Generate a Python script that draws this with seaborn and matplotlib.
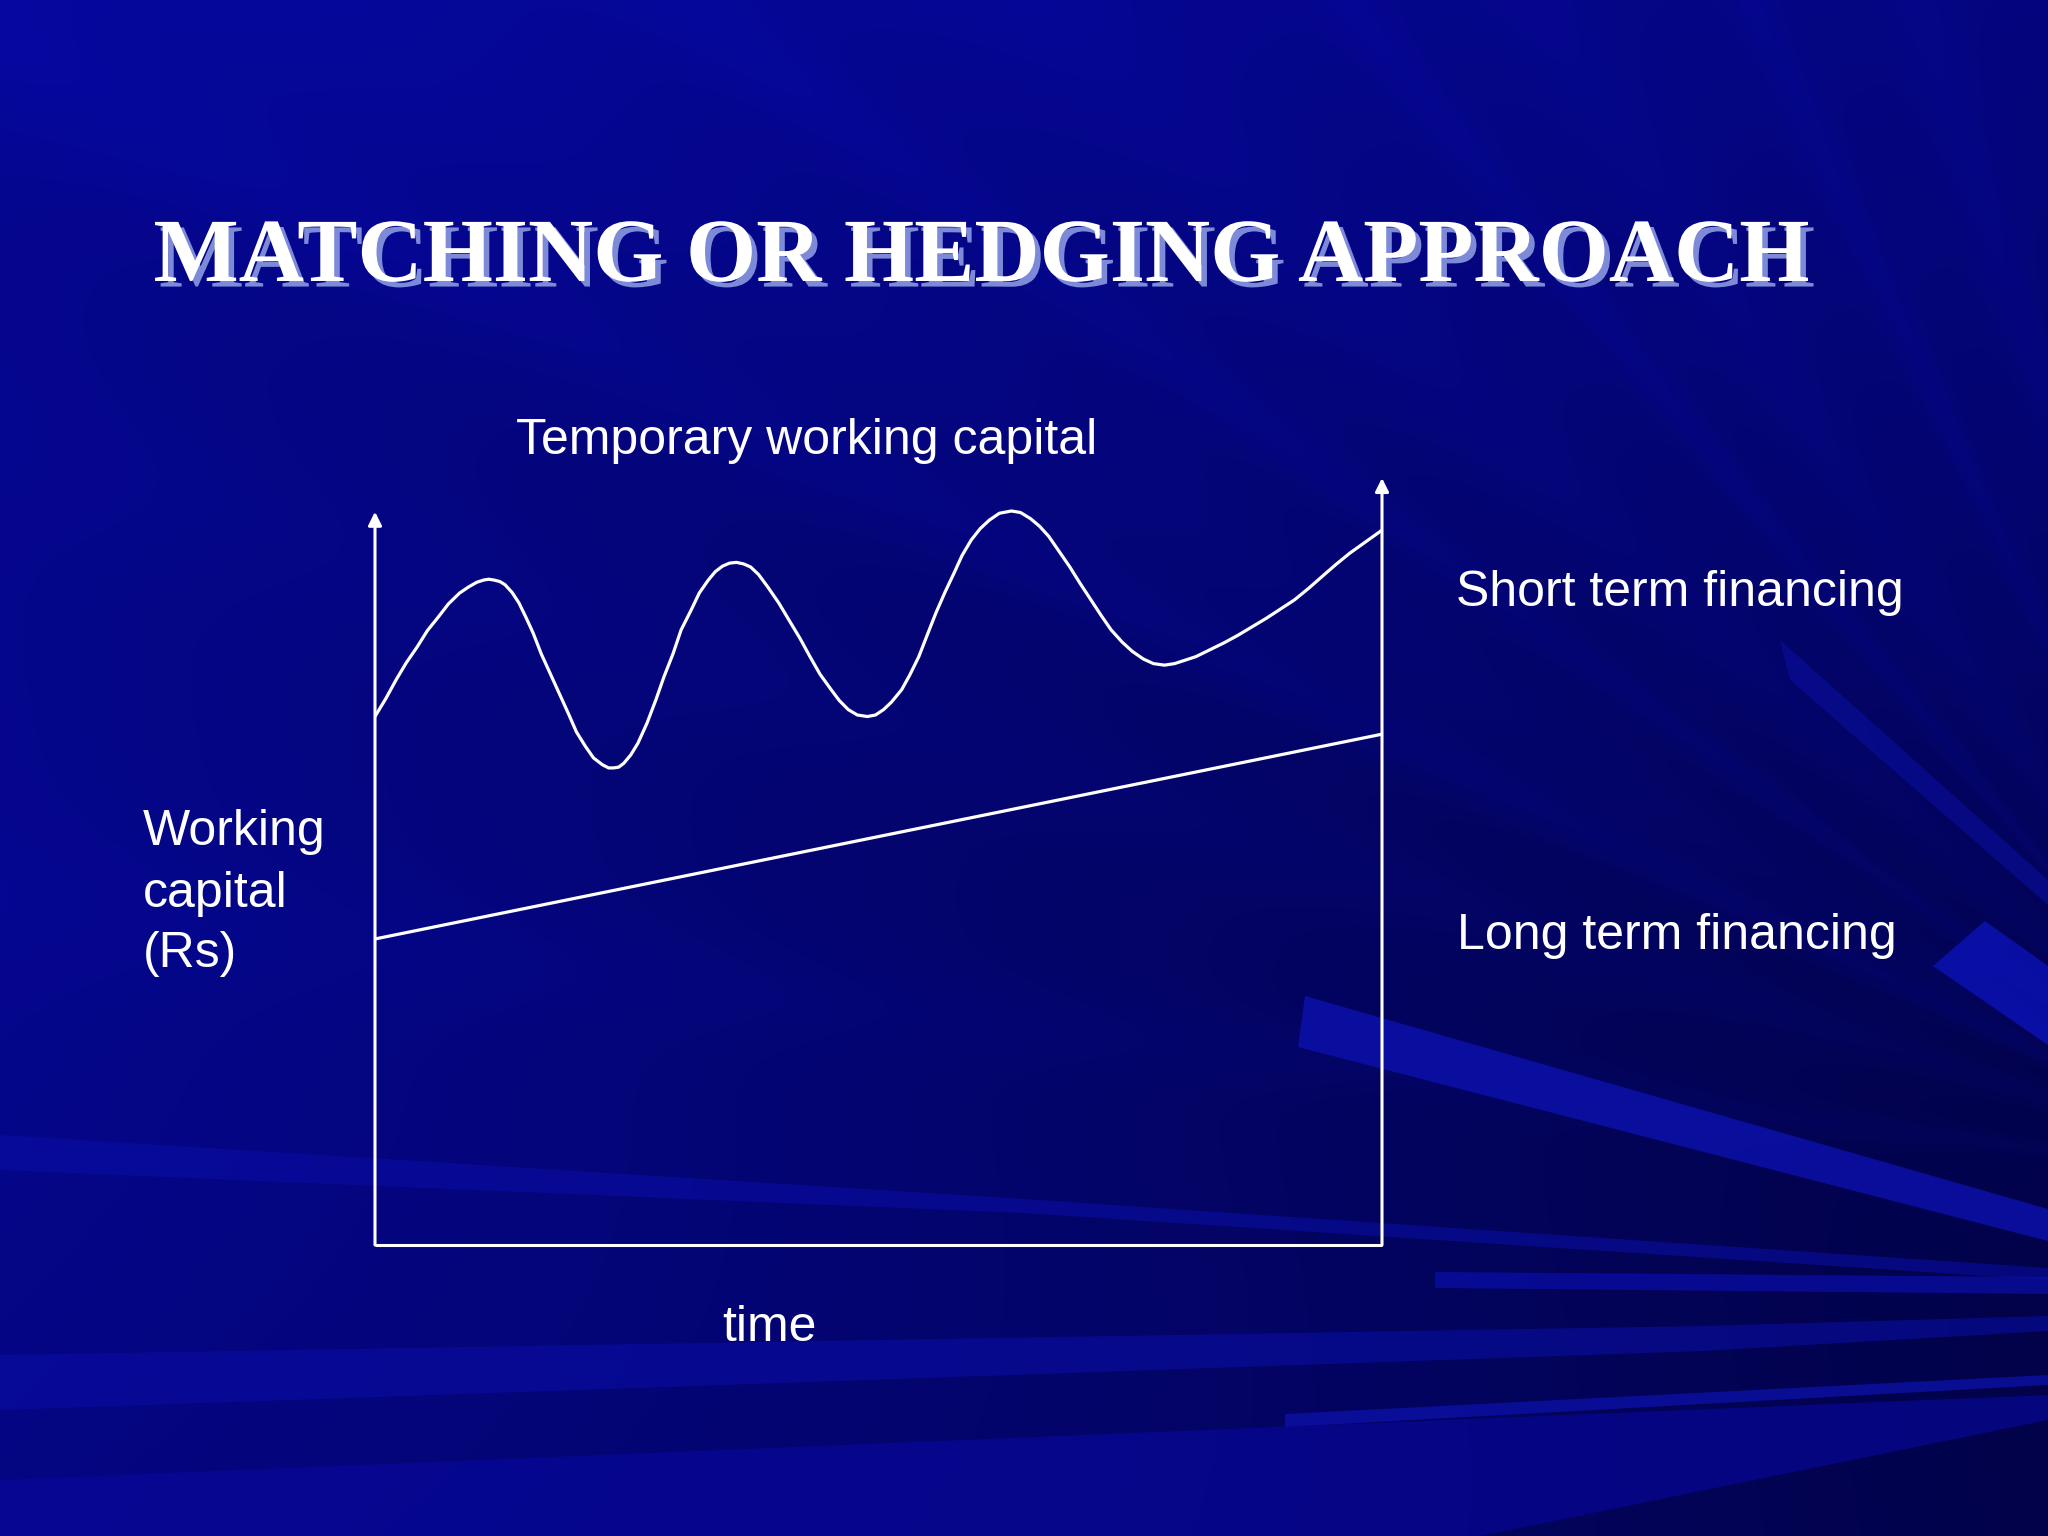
import numpy as np
import pandas as pd
import matplotlib
matplotlib.use("Agg")
import matplotlib.pyplot as plt
import matplotlib.patheffects as pe
import seaborn as sns

# ---------------- data ----------------
# time axis (0..10) and working-capital level (0..100) of the fluctuating
# "total working capital" curve
curve_time = [0.00, 0.11, 0.21, 0.31, 0.42, 0.52, 0.63, 0.73, 0.84, 0.93,
              1.01, 1.08, 1.13, 1.18, 1.24, 1.29, 1.36, 1.43, 1.50, 1.57,
              1.65, 1.74, 1.83, 1.92, 2.00, 2.09, 2.17, 2.26, 2.32, 2.37,
              2.42, 2.47, 2.54, 2.61, 2.70, 2.79, 2.87, 2.96, 3.04, 3.14,
              3.22, 3.31, 3.38, 3.45, 3.52, 3.59, 3.66, 3.73, 3.81, 3.90,
              4.01, 4.11, 4.22, 4.32, 4.42, 4.53, 4.61, 4.70, 4.79, 4.89,
              4.97, 5.05, 5.13, 5.23, 5.31, 5.40, 5.48, 5.57, 5.66, 5.75,
              5.83, 5.92, 6.01, 6.10, 6.20, 6.32, 6.41, 6.51, 6.60, 6.69,
              6.79, 6.90, 7.00, 7.11, 7.21, 7.31, 7.42, 7.52, 7.63, 7.73,
              7.84, 7.94, 8.01, 8.15, 8.29, 8.43, 8.57, 8.71, 8.85, 8.99,
              9.13, 9.27, 9.40, 9.54, 9.68, 9.84, 10.00]
curve_value = [68.9, 71.3, 73.7, 75.9, 78.0, 80.1, 81.9, 83.6, 85.0, 85.8,
               86.4, 86.7, 86.8, 86.7, 86.5, 86.1, 85.1, 83.7, 81.8, 79.8,
               77.1, 74.5, 71.9, 69.3, 66.9, 65.0, 63.5, 62.6, 62.2, 62.2,
               62.3, 62.8, 63.9, 65.4, 68.0, 71.1, 74.1, 77.1, 80.2, 82.8,
               85.0, 86.7, 87.8, 88.5, 88.9, 89.0, 88.8, 88.4, 87.4, 85.8,
               83.7, 81.5, 79.1, 76.7, 74.4, 72.4, 71.0, 69.8, 69.1, 68.9,
               69.1, 69.8, 70.8, 72.4, 74.3, 76.7, 79.4, 82.4, 85.1, 87.6,
               89.9, 91.9, 93.4, 94.5, 95.4, 95.7, 95.5, 94.7, 93.7, 92.4,
               90.5, 88.4, 86.3, 84.1, 82.1, 80.2, 78.6, 77.4, 76.4, 75.8,
               75.6, 75.8, 76.1, 76.7, 77.6, 78.5, 79.5, 80.6, 81.7, 82.9,
               84.1, 85.6, 87.1, 88.7, 90.2, 91.7, 93.2]
# permanent working capital (straight rising line)
perm_time = [0.0, 10.0]
perm_value = [39.9, 66.6]
# axis extents
left_axis_top = 95.6
right_axis_top = 100.0
time_max = 10.0

title = "MATCHING OR HEDGING APPROACH"
label_temporary = "Temporary working capital"
label_short = "Short term financing"
label_long = "Long term financing"
label_y_lines = ["Working", "capital", "(Rs)"]
label_x = "time"

# ---------------- figure ----------------
sns.set_theme(style="white")
plt.rcParams['font.family'] = ['Liberation Sans', 'DejaVu Sans']

W, H = 2048, 1536
fig = plt.figure(figsize=(W / 100, H / 100), dpi=100)

# ---- decorative background: blue slide with light rays ----
bg = fig.add_axes([0, 0, 1, 1])
yy, xx = np.mgrid[0:H, 0:W].astype(float)
cx, cy = 2300.0, 1180.0
phi = np.degrees(np.arctan2(cy - yy, cx - xx))
r = np.hypot(cx - xx, cy - yy)
base = 168 - 42 * (xx / W) - 40 * (yy / H)
d = (yy - 0.45 * xx - 260) / 520.0
base -= 20 * np.exp(-d ** 2)
soft = [(26, 1.6, 14), (30, 3.0, 8), (36, 1.2, 12), (43, 2.5, 8),
        (51, 1.0, 12), (57, 2.0, 8), (65, 1.0, 12), (72, 1.5, 10),
        (18, 2.5, 8), (7, 2.0, 8)]
ray = np.zeros_like(base)
for p0, w, a in soft:
    ray += a * np.exp(-((phi - p0) / w) ** 2)
ray *= 0.5 + 0.5 * np.exp(-r / 1800.0)
B = np.clip(base + ray, 0, 255)
R = np.clip(0.05 * B - 2, 0, 255)
G = np.clip(0.06 * B - 2, 0, 255)
img = np.dstack([R, G, B]) / 255.0
bg.imshow(img, aspect='auto', extent=[0, W, H, 0], interpolation='bilinear')
bg.set_xlim(0, W)
bg.set_ylim(H, 0)

beams = [
    ([(1305, 996), (2048, 1209), (2048, 1241), (1298, 1047)], '#0c12b4', 0.75),
    ([(0, 1135), (1024, 1199), (2048, 1268), (2048, 1280), (1024, 1213),
      (0, 1170)], '#0a0ea8', 0.55),
    ([(1435, 1272), (2048, 1277), (2048, 1294), (1435, 1288)], '#0a0eaa', 0.7),
    ([(0, 1355), (1703, 1326), (2048, 1316), (2048, 1331), (1703, 1351),
      (0, 1410)], '#0a0ea8', 0.55),
    ([(1285, 1414), (2048, 1375), (2048, 1385), (1285, 1427)], '#0c12b0', 0.7),
    ([(0, 1480), (2048, 1395), (2048, 1420), (1480, 1536), (0, 1536)],
     '#0808a0', 0.6),
    ([(1985, 921), (2048, 966), (2048, 1045), (1933, 966)], '#0c12b8', 0.8),
    ([(1780, 640), (2048, 880), (2048, 905), (1790, 680)], '#0a10a8', 0.5),
]
for pts, col, a in beams:
    px, py = zip(*pts)
    bg.fill(px, py, color=col, alpha=a, lw=0)
bg.set_axis_off()

# ---- chart axes positioned where the diagram sits ----
ax = fig.add_axes([375 / W, 291 / H, 1007 / W, 767 / H])
ax.set_xlim(0, time_max)
ax.set_ylim(0, 100)
ax.patch.set_alpha(0)
ax.set_axis_off()

df_curve = pd.DataFrame({"time": curve_time, "value": curve_value})
df_perm = pd.DataFrame({"time": perm_time, "value": perm_value})
sns.lineplot(data=df_curve, x="time", y="value", ax=ax, color="white",
             lw=2.3, sort=False, estimator=None,
             solid_joinstyle='round', solid_capstyle='round')
sns.lineplot(data=df_perm, x="time", y="value", ax=ax, color="white",
             lw=2.3, sort=False, estimator=None)

# frame: bottom line and two arrowed vertical axes
ax.plot([0, time_max], [0, 0], color="white", lw=2.2, solid_capstyle='butt',
        clip_on=False)
arrow_kw = dict(arrowstyle='-|>', color='white', lw=2.2, mutation_scale=20,
                shrinkA=0, shrinkB=0)
ax.annotate('', xy=(0, left_axis_top), xytext=(0, 0), arrowprops=arrow_kw,
            annotation_clip=False)
ax.annotate('', xy=(time_max, right_axis_top), xytext=(time_max, 0),
            arrowprops=arrow_kw, annotation_clip=False)

# ---- texts ----
fig.text(981 / W, 1 - 281 / H, title, ha='center', va='baseline',
         fontsize=65, color='white', fontweight='bold',
         family=['Liberation Serif', 'DejaVu Serif'],
         path_effects=[pe.SimplePatchShadow(offset=(4, -4),
                                            shadow_rgbFace='#7c8ad8', alpha=1.0),
                       pe.Normal()])
tkw = dict(fontsize=36, color='white', ha='left', va='baseline')
fig.text(516 / W, 1 - 454 / H, label_temporary, **tkw)
fig.text(1456 / W, 1 - 606 / H, label_short, **tkw)
fig.text(1457 / W, 1 - 949 / H, label_long, **tkw)
for line, yb in zip(label_y_lines, [845, 907, 967]):
    fig.text(143 / W, 1 - yb / H, line, **tkw)
fig.text(722 / W, 1 - 1341 / H, label_x, **tkw)

fig.savefig("out.png", dpi=100)
